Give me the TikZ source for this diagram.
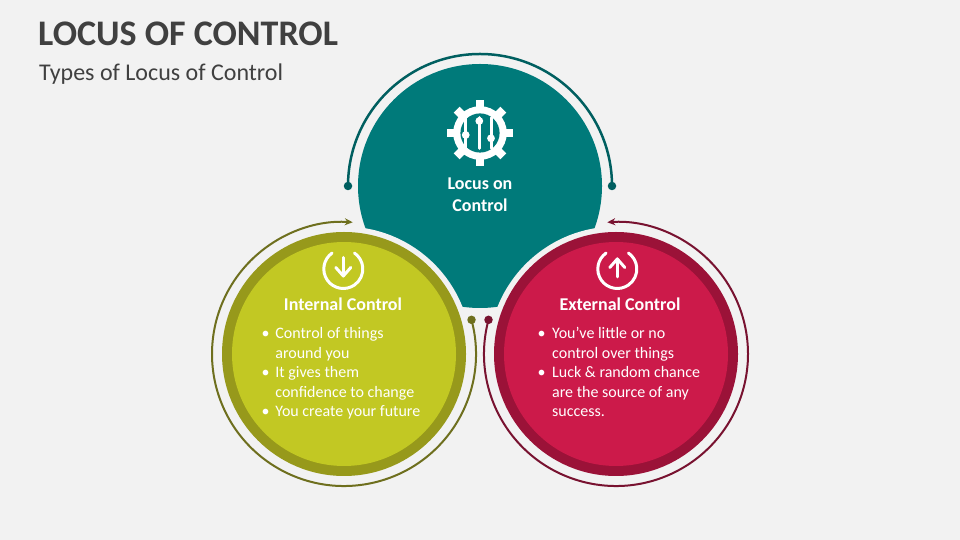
\documentclass[tikz,border=0pt]{standalone}
\usepackage{fontspec}
\setmainfont{Carlito}
\usetikzlibrary{arrows.meta}
\definecolor{bgc}{HTML}{F2F2F2}
\definecolor{titlec}{HTML}{404040}
\definecolor{tealc}{HTML}{007A7A}
\definecolor{tealarc}{HTML}{005F60}
\definecolor{oliveout}{HTML}{97991B}
\definecolor{olivein}{HTML}{C2C823}
\definecolor{olivearc}{HTML}{6E6F1E}
\definecolor{redout}{HTML}{9B1238}
\definecolor{redin}{HTML}{CC1A4A}
\definecolor{redarc}{HTML}{781230}
\tikzset{
  headtxt/.style={font=\fontsize{18}{22}\selectfont\bfseries, text=white, inner sep=0, anchor=base},
  bultxt/.style={font=\fontsize{16}{19.5}\selectfont, text=white, inner sep=0, anchor=base west},
  bulsym/.style={font=\fontsize{16}{19.5}\selectfont, text=white, inner sep=0, anchor=base},
  iconline/.style={white, line width=3pt, line cap=round, line join=round},
  ringarc/.style={line width=2pt},
  enddot/.style={circle, inner sep=0, minimum size=8.5pt},
}
\begin{document}
\begin{tikzpicture}[x=1pt,y=1pt]
\useasboundingbox (0,0) rectangle (960,540);
\fill[bgc] (0,0) rectangle (960,540);
% title
\node[font=\fontsize{36}{40}\selectfont\bfseries, text=titlec, anchor=base west, inner sep=0] (title) at (38,494.5) {LOCUS OF CONTROL};
\node[font=\fontsize{24}{28}\selectfont, text=titlec, anchor=base west, inner sep=0] (subtitle) at (39,459) {Types of Locus of Control};

% teal circle
\coordinate (tc) at (480,354);
\fill[tealc] (tc) circle (122);
\draw[tealarc, line width=2.5pt] ([shift={(180:132)}]tc) arc (180:0:132);
\node[enddot, fill=tealarc] (td1) at ([shift={(180:132)}]tc) {};
\node[enddot, fill=tealarc] (td2) at ([shift={(0:132)}]tc) {};

% gear icon
\coordinate (gc) at (480,407);
\begin{scope}[shift={(gc)}]
  \foreach \a in {0,45,...,315}{
    \fill[white, rotate=\a] (-4.2,22) rectangle (4.2,33);
  }
  \fill[white] (0,0) circle (26.8);
  \fill[tealc] (0,0) circle (19.6);
  \draw[iconline] (-14.3,15.3) -- (-14.3,-15.3);
  \draw[iconline] (-0.7,15.3) -- (-0.7,-15.3);
  \draw[iconline] (11,15.3) -- (11,-15.3);
  \fill[white] (-14.3,-2) circle (3.9);
  \fill[white] (-0.7,12) circle (3.9);
  \fill[white] (11,-5.3) circle (3.9);
\end{scope}
\node[headtxt] (lc1) at (480,350) {Locus on};
\node[headtxt] (lc2) at (480,328) {Control};

% olive circle
\coordinate (oc) at (344,186);
\fill[bgc] (oc) circle (127.5);
\fill[oliveout] (oc) circle (122);
\fill[olivein] (oc) circle (112);
\draw[olivearc, ringarc, -{Stealth[length=8pt,width=7pt]}] ([shift={(15:132)}]oc) arc (15:-273.8:132);
\node[enddot, fill=olivearc] (od) at ([shift={(15:132)}]oc) {};

% red circle
\coordinate (rc) at (616,186);
\fill[bgc] (rc) circle (127.5);
\fill[redout] (rc) circle (122);
\fill[redin] (rc) circle (112);
\draw[redarc, ringarc, -{Stealth[length=8pt,width=7pt]}] ([shift={(165:132)}]rc) arc (165:453.8:132);
\node[enddot, fill=redarc] (rd) at ([shift={(165:132)}]rc) {};

% down icon
\coordinate (dic) at (343.3,271);
\draw[iconline] ([shift={(125:19.5)}]dic) arc (125:415:19.5);
\draw[iconline] ([yshift=11.5]dic) -- ([yshift=-7]dic);
\draw[iconline] ([shift={(-7.5,1.5)}]dic) -- ([yshift=-7]dic) -- ([shift={(7.5,1.5)}]dic);

% up icon
\coordinate (uic) at (617.3,271);
\draw[iconline] ([shift={(125:19.5)}]uic) arc (125:415:19.5);
\draw[iconline] ([yshift=-8]uic) -- ([yshift=10]uic);
\draw[iconline] ([shift={(-7.5,1.5)}]uic) -- ([yshift=10]uic) -- ([shift={(7.5,1.5)}]uic);

% internal text
\node[headtxt] (ih) at (343,229.4) {Internal Control};
\node[bulsym] (ib1) at (265.5,201.4) {•};
\node[bultxt] (il1) at (275.2,201.4) {Control of things};
\node[bultxt] (il2) at (275.2,181.9) {around you};
\node[bulsym] (ib2) at (265.5,162.4) {•};
\node[bultxt] (il3) at (275.2,162.4) {It gives them};
\node[bultxt] (il4) at (275.2,142.9) {confidence to change};
\node[bulsym] (ib3) at (265.5,123.4) {•};
\node[bultxt] (il5) at (275.2,123.4) {You create your future};

% external text
\node[headtxt] (eh) at (620,229.4) {External Control};
\node[bulsym] (eb1) at (541.5,201.4) {•};
\node[bultxt] (el1) at (552,201.4) {You’ve little or no};
\node[bultxt] (el2) at (552,181.9) {control over things};
\node[bulsym] (eb2) at (541.5,162.4) {•};
\node[bultxt] (el3) at (552,162.4) {Luck \& random chance};
\node[bultxt] (el4) at (552,142.9) {are the source of any};
\node[bultxt] (el5) at (552,123.4) {success.};
\end{tikzpicture}
\end{document}
